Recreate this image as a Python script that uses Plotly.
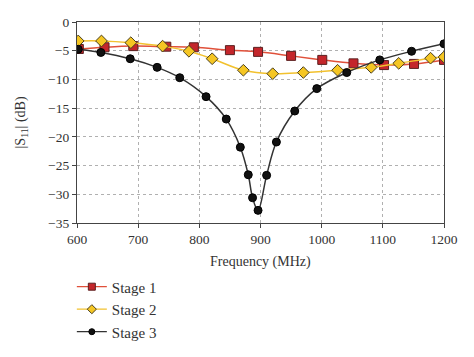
import plotly.graph_objects as go

# Stage 1 (red squares)
s1_freq = [603, 645, 692, 746, 791, 850, 896, 950, 1001, 1052, 1102, 1151, 1200]
s1_s11 = [-4.7, -4.4, -4.2, -4.3, -4.4, -4.9, -5.2, -5.9, -6.6, -7.2, -7.5, -7.3, -6.6]

# Stage 2 (yellow diamonds)
s2_freq = [602, 640, 688, 740, 783, 821, 872, 920, 970, 1026, 1081, 1126, 1178, 1200]
s2_s11 = [-3.3, -3.3, -3.6, -4.2, -5.1, -6.4, -8.4, -9.0, -8.8, -8.4, -7.9, -7.2, -6.3, -6.1]

# Stage 3 (black circles)
s3_freq = [602, 639, 687, 731, 768, 811, 844, 867, 880, 887, 896, 910, 926, 956, 992, 1041, 1095, 1147, 1200]
s3_s11 = [-4.75, -5.3, -6.4, -7.9, -9.7, -13.0, -16.9, -21.8, -26.6, -30.6, -32.8, -26.7, -20.9, -15.5, -11.6, -8.8, -6.6, -5.1, -3.8]

x_ticks = [600, 700, 800, 900, 1000, 1100, 1200]
y_ticks = [0, -5, -10, -15, -20, -25, -30, -35]

names = ["Stage 1", "Stage 2", "Stage 3"]
line_colors = ["#e0503a", "#f2c12e", "#333333"]
marker_colors = ["#c4262b", "#f5c623", "#111111"]
marker_edges = ["#5a2020", "#4a4020", "#000000"]
symbols = ["square", "diamond", "circle"]
plot_sizes = [9, 9, 8]
legend_sizes = [7, 7, 6]
data = [(s1_freq, s1_s11), (s2_freq, s2_s11), (s3_freq, s3_s11)]

fig = go.Figure()
for i, (xs, ys) in enumerate(data):
    fig.add_trace(go.Scatter(
        x=xs, y=ys, name=names[i], mode="lines+markers", showlegend=False,
        line=dict(color=line_colors[i], width=1.5, shape="spline"),
        marker=dict(symbol=symbols[i], size=plot_sizes[i], color=marker_colors[i],
                    line=dict(color=marker_edges[i], width=1)),
    ))
for i in range(3):
    # legend-only entries with smaller symbols
    fig.add_trace(go.Scatter(
        x=[None], y=[None], name=names[i], mode="lines+markers", showlegend=True,
        line=dict(color=line_colors[i], width=1.2),
        marker=dict(symbol=symbols[i], size=legend_sizes[i], color=marker_colors[i],
                    line=dict(color=marker_edges[i], width=1)),
    ))

font_family = "Liberation Serif"
fig.update_layout(
    width=466, height=349,
    margin=dict(l=69, r=30, t=14, b=134, autoexpand=False),
    paper_bgcolor="white", plot_bgcolor="white",
    font=dict(family=font_family, size=13.5, color="#333333"),
    showlegend=True,
    legend=dict(xref="container", yref="container", x=0.137, y=0.248,
                xanchor="left", yanchor="top",
                font=dict(family=font_family, size=15, color="#333333"),
                bgcolor="rgba(0,0,0,0)", tracegroupgap=0, itemwidth=30),
    xaxis=dict(
        range=[600, 1200], tickvals=x_ticks, ticktext=[str(v) for v in x_ticks],
        showgrid=True, gridcolor="#b0b0b0", griddash="dot", gridwidth=1,
        showline=True, linecolor="#444444", linewidth=1.2, mirror=True,
        ticks="outside", ticklen=4, tickcolor="#444444",
        zeroline=False, automargin=False,
    ),
    yaxis=dict(
        range=[-35, 0], tickvals=y_ticks,
        showgrid=True, gridcolor="#b0b0b0", griddash="dot", gridwidth=1,
        showline=True, linecolor="#444444", linewidth=1.2, mirror=True,
        ticks="outside", ticklen=4, tickcolor="#444444",
        zeroline=False, automargin=False,
    ),
    annotations=[
        dict(text="Frequency (MHz)", xref="paper", yref="paper", x=0.5, y=-0.194,
             xanchor="center", yanchor="middle", showarrow=False,
             font=dict(family=font_family, size=14, color="#333333")),
        dict(text="|S<sub>11</sub>| (dB)", xref="paper", yref="paper", x=-0.15, y=0.5,
             xanchor="center", yanchor="middle", showarrow=False, textangle=-90,
             font=dict(family=font_family, size=14, color="#333333")),
    ],
)

fig.write_html("out.html")
